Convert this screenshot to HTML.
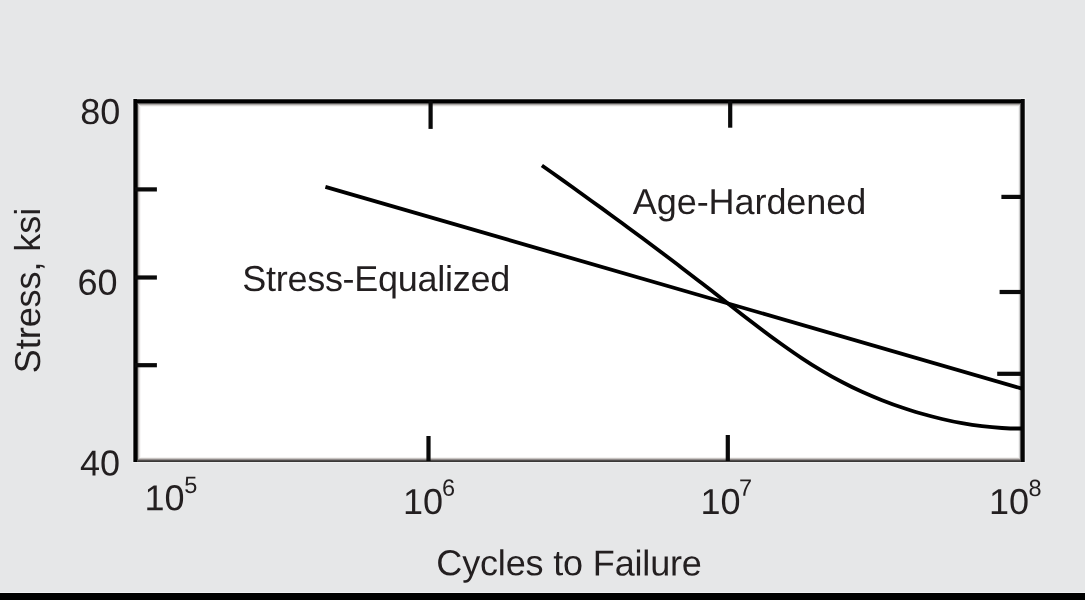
<!DOCTYPE html>
<html>
<head>
<meta charset="utf-8">
<title>S-N Curve</title>
<style>
html,body{margin:0;padding:0;background:#e6e7e8;}
body{width:1085px;height:600px;overflow:hidden;position:relative;font-family:"Liberation Sans",sans-serif;}
svg{position:absolute;left:0;top:0;display:block;will-change:transform;}
text{font-family:"Liberation Sans",sans-serif;fill:#231f20;}
</style>
</head>
<body>
<svg width="1085" height="600" viewBox="0 0 1085 600">
  <rect x="0" y="0" width="1085" height="600" fill="#e6e7e8"/>
  <!-- plot area -->
  <rect x="134" y="100" width="890" height="361" fill="#ffffff"/>
  <!-- frame: soft inner fades -->
  <rect x="137" y="103" width="884" height="1" fill="#5a5857"/>
  <rect x="138" y="104" width="882" height="1" fill="#aaa7a5"/>
  <rect x="139" y="105" width="880" height="1" fill="#d9d6d4"/>
  <rect x="139" y="106" width="880" height="1" fill="#f6f5f4"/>
  <rect x="139" y="457" width="880" height="1" fill="#f4f3f2"/>
  <rect x="138" y="458" width="882" height="1" fill="#c8c4c2"/>
  <rect x="137" y="459" width="884" height="1" fill="#8f8a89"/>
  <rect x="134" y="460" width="890" height="1" fill="#4f4c4b"/>
  <rect x="134" y="461" width="890" height="1" fill="#3a3837"/>
  <rect x="137" y="103" width="1" height="357" fill="#3a3a3a"/>
  <rect x="138" y="104" width="1" height="355" fill="#bab7b5"/>
  <rect x="139" y="105" width="1" height="353" fill="#e6e3e2"/>
  <rect x="140" y="106" width="1" height="351" fill="#f8f7f7"/>
  <rect x="1018" y="106" width="1" height="351" fill="#f5f5f5"/>
  <rect x="1019" y="105" width="1" height="353" fill="#d0d0d0"/>
  <rect x="1020" y="103" width="1" height="357" fill="#555555"/>
  <!-- frame: cores -->
  <rect x="133" y="99" width="892" height="1" fill="#3a3a3a"/>
  <rect x="133" y="100" width="892" height="3" fill="#000"/>
  <rect x="133" y="99" width="1" height="363" fill="#555555"/>
  <rect x="134" y="99" width="3" height="363" fill="#000"/>
  <rect x="1021" y="99" width="3" height="363" fill="#060606"/>
  <rect x="1024" y="99" width="1" height="363" fill="#444444"/>
  <!-- halo (ringing) -->
  <rect x="133" y="98" width="892" height="1" fill="#eeeff0"/>
  <rect x="133" y="462" width="892" height="1" fill="#eff0f1"/>
  <rect x="132" y="98" width="1" height="365" fill="#ecedef"/>
  <rect x="1025" y="98" width="1" height="365" fill="#eeeff1"/>
  <!-- ticks -->
  <g fill="#0a0a0a">
    <rect x="428.5" y="101" width="4.2" height="27.9"/>
    <rect x="728.1" y="101" width="4.2" height="26.7"/>
    <rect x="426.4" y="436" width="4.2" height="25"/>
    <rect x="725.7" y="435" width="4.2" height="26"/>
    <rect x="135" y="187.3" width="21.9" height="4.2"/>
    <rect x="135" y="275.4" width="21.9" height="4.2"/>
    <rect x="135" y="363.1" width="21.9" height="4.2"/>
    <rect x="1001.4" y="194.8" width="21" height="4.2"/>
    <rect x="999.6" y="289.9" width="23" height="4.2"/>
    <rect x="997.2" y="371.7" width="25" height="4.2"/>
  </g>
  <!-- curves -->
  <g fill="none" stroke="#000" stroke-width="3.8" stroke-linecap="butt" stroke-linejoin="round">
    <line x1="325.4" y1="186.9" x2="1022" y2="388.6"/>
    <path d="M541.9 165.5 C548.6 170.2 555.2 174.9 561.9 179.6 C568.6 184.4 575.2 189.2 581.9 194.0 C588.6 198.8 595.2 203.6 601.9 208.4 C608.6 213.3 615.2 218.1 621.9 223.0 C628.6 227.9 635.3 232.9 641.9 237.8 C648.6 242.8 655.3 247.8 661.9 252.8 C668.6 257.8 675.3 262.8 681.9 267.9 C688.6 273.0 695.3 278.1 701.9 283.3 C708.6 288.4 715.3 293.6 721.9 298.8 C728.6 304.0 735.3 309.2 741.9 314.4 C748.6 319.6 755.3 324.7 761.9 329.7 C768.6 334.8 775.3 339.7 782.0 344.5 C788.6 349.2 795.3 353.9 802.0 358.3 C808.6 362.7 815.3 366.9 822.0 370.9 C828.6 374.9 835.3 378.6 842.0 382.0 C848.6 385.5 855.3 388.8 862.0 391.8 C868.6 394.8 875.3 397.6 882.0 400.2 C888.6 402.8 895.3 405.3 902.0 407.5 C908.6 409.8 915.3 411.8 922.0 413.8 C928.6 415.7 935.3 417.4 942.0 419.0 C948.7 420.6 955.3 422.0 962.0 423.2 C968.7 424.4 975.3 425.4 982.0 426.2 C988.7 427.0 995.3 427.6 1002.0 428.0 C1008.7 428.4 1015.3 428.6 1022.0 428.5"/>
  </g>
  <!-- bottom bar -->
  <rect x="0" y="592" width="1085" height="1" fill="#f1f1f3"/>
  <rect x="0" y="593" width="1085" height="7" fill="#000"/>
  <!-- tick labels -->
  <text transform="translate(80.30 124.00) rotate(0.03)" font-size="36">80</text>
  <text transform="translate(77.50 294.70) rotate(0.03)" font-size="36">60</text>
  <text transform="translate(80.00 475.50) rotate(0.03)" font-size="36">40</text>
  <text transform="translate(144.60 510.30) rotate(0.03)" font-size="36">10</text>
  <text transform="translate(184.20 493.00) rotate(0.03)" font-size="23.5">5</text>
  <text transform="translate(403.00 513.90) rotate(0.03)" font-size="36">10</text>
  <text transform="translate(442.00 495.80) rotate(0.03)" font-size="23.5">6</text>
  <text transform="translate(700.50 513.90) rotate(0.03)" font-size="36">10</text>
  <text transform="translate(739.00 495.80) rotate(0.03)" font-size="23.5">7</text>
  <text transform="translate(989.00 513.90) rotate(0.03)" font-size="36">10</text>
  <text transform="translate(1028.50 496.00) rotate(0.03)" font-size="23.5">8</text>
  <!-- axis and series labels -->
  <text transform="translate(632.74 213.90) rotate(0.03)" font-size="36" letter-spacing="-0.055">Age-Hardened</text>
  <text transform="translate(242.25 290.90) rotate(0.03)" font-size="36" letter-spacing="-0.278">Stress-Equalized</text>
  <text transform="translate(436.34 575.30) rotate(0.03)" font-size="36" letter-spacing="-0.159">Cycles to Failure</text>
  <text transform="translate(40.00 373.14) rotate(-89.97)" font-size="36" letter-spacing="-0.076">Stress, ksi</text>
</svg>
</body>
</html>
